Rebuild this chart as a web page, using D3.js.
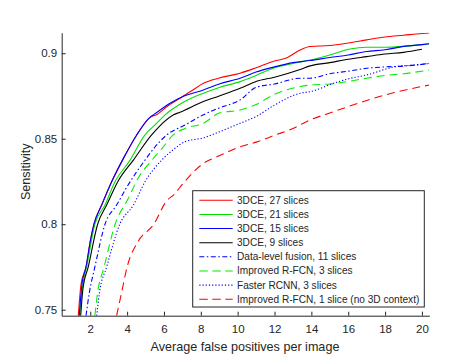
<!DOCTYPE html>
<html><head><meta charset="utf-8">
<script src="https://cdn.jsdelivr.net/npm/d3@7"></script>
<style>
html,body{margin:0;padding:0;background:#fff;}
svg{display:block;font-family:"Liberation Sans",Arial,sans-serif;}
</style></head>
<body>
<svg id="chart" width="474" height="355"></svg>
<script>
// ---- data ----
const xTicks = [2,4,6,8,10,12,14,16,18,20];
const yTicks = [0.75,0.8,0.85,0.9];
const yTickLabels = ["0.75","0.8","0.85","0.9"];
const seriesNames = [
  "3DCE, 27 slices",
  "3DCE, 21 slices",
  "3DCE, 15 slices",
  "3DCE, 9 slices",
  "Data-level fusion, 11 slices",
  "Improved R-FCN, 3 slices",
  "Faster RCNN, 3 slices",
  "Improved R-FCN, 1 slice (no 3D context)"
];
const dce27 = [[1.35,.7465],[1.5,.765],[1.77,.775],[2.0,.79],[2.2,.80],[2.62,.8112],[3.16,.8248],[3.8,.8385],[4.52,.8522],[5.24,.8625],[5.6,.864],[6.15,.8687],[6.87,.8737],[7.5,.878],[8.14,.8824],[9.0,.8855],[10.13,.8883],[11.0,.8915],[12.0,.8955],[12.6,.897],[13.39,.9019],[13.93,.9039],[15,.9045],[16,.906],[17,.9078],[18,.9095],[19,.9105],[20,.9115],[20.4,.9118]];
const dce21 = [[1.42,.7465],[1.6,.765],[1.8,.775],[2.25,.80],[2.8,.8112],[3.3,.824],[4.16,.8375],[4.97,.8522],[5.6,.859],[6.06,.8639],[7.0,.871],[8.14,.8766],[9.0,.880],[10.13,.8834],[11.0,.887],[12.0,.8915],[13.0,.894],[13.93,.896],[15.0,.899],[16.1,.9025],[17.0,.9035],[18.0,.9035],[19.0,.904],[20.0,.905],[20.4,.9055]];
const dce15 = [[1.4,.7465],[1.55,.765],[1.77,.775],[2.0,.79],[2.2,.80],[2.62,.8112],[3.16,.8248],[3.8,.8385],[4.52,.8522],[5.24,.8625],[5.5,.8645],[6.33,.8707],[7.0,.8745],[8.14,.8785],[9.0,.882],[10.13,.8854],[11.0,.889],[12.0,.892],[13.0,.8945],[13.93,.8957],[15.0,.8975],[16.0,.899],[17.0,.901],[18.0,.902],[19.0,.904],[20.0,.905],[20.4,.9055]];
const dce9 = [[1.48,.7465],[1.6,.762],[1.89,.775],[2.4,.80],[2.89,.8112],[3.5,.825],[4.34,.8375],[5.33,.8522],[6.5,.8639],[6.87,.8655],[8.14,.8717],[9.0,.875],[10.13,.8795],[11.0,.8835],[12.0,.886],[13.39,.8905],[13.93,.8926],[15.0,.8945],[16.0,.8965],[17.0,.898],[18.0,.8995],[19.0,.9005],[20.0,.9023]];
const dataFusion11 = [[1.77,.7465],[1.95,.76],[2.25,.775],[2.8,.80],[3.43,.8112],[4.0,.822],[4.97,.8375],[5.5,.845],[6.15,.8522],[7.14,.858],[8.14,.864],[9.0,.868],[10.13,.8727],[11.0,.880],[12.0,.882],[13.39,.8854],[13.93,.8854],[15.0,.888],[16.0,.8895],[17.0,.8912],[18.0,.892],[19.0,.8925],[20.0,.8935],[20.4,.8941]];
const rfcn3 = [[2.25,.7465],[2.4,.76],[2.75,.775],[3.35,.80],[4.06,.815],[4.6,.827],[5.35,.8375],[5.9,.8444],[6.5,.8522],[7.14,.856],[8.14,.859],[9.0,.865],[10.13,.8668],[11.0,.870],[12.0,.876],[13.39,.8805],[13.93,.8814],[15.0,.882],[16.0,.8835],[17.0,.8854],[18.0,.887],[19.0,.888],[20.4,.8902]];
const fasterRcnn3 = [[2.35,.7465],[2.5,.76],[2.89,.775],[3.6,.80],[4.34,.8112],[4.97,.8248],[5.88,.8375],[6.6,.8444],[7.14,.8483],[8.14,.8505],[9.0,.854],[10.13,.859],[11.0,.863],[12.0,.8697],[13.39,.8766],[13.93,.8775],[15.2,.8824],[16.0,.885],[17.0,.8873],[18.6,.8922],[19.5,.893],[20.4,.894]];
const rfcn1 = [[3.43,.7465],[3.7,.76],[4.0,.775],[4.6,.79],[5.45,.80],[6.1,.813],[6.6,.818],[7.05,.824],[8.14,.8356],[9.0,.840],[10.13,.8453],[11.0,.848],[12.0,.852],[13.0,.856],[13.93,.861],[15.0,.865],[16.0,.8688],[17.4,.8737],[18.5,.877],[20.4,.8814]];

const seriesValues = [dce27, dce21, dce15, dce9, dataFusion11, rfcn3, fasterRcnn3, rfcn1];
const seriesColors = ["#ff0000","#00e000","#0000ff","#000000","#0000ff","#00ee00","#0000ff","#ff0000"];
const seriesDash = [null,null,null,null,"5,2.5,1.5,2.5","8,5","1.2,2","8,5"];
const legendDash = [null,null,null,null,"5,2.5,1.5,2.5","8.5,4.5","1.2,2","8.5,4.5"];

// ---- layout ----
const svg = d3.select("#chart");
const L = 61.7, R = 429.3, T = 32.7, B = 315.7;
const axisColor = "#262626";
const x = d3.scaleLinear().domain([0.45, 20.4]).range([L, R]);
const y = d3.scaleLinear().domain([0.7465, 0.912]).range([B, T]);

svg.append("defs").append("clipPath").attr("id","plotclip")
  .append("rect").attr("x",L).attr("y",T).attr("width",R-L).attr("height",B-T);

const line = d3.line().x(d=>x(d[0])).y(d=>y(d[1])).curve(d3.curveMonotoneX);
const g = svg.append("g").attr("clip-path","url(#plotclip)");
seriesValues.forEach((s,i)=>{
  g.append("path").attr("d", line(s)).attr("fill","none")
    .attr("stroke", seriesColors[i]).attr("stroke-width", 1.1)
    .attr("stroke-dasharray", seriesDash[i]);
});

// axes
const xAxis = d3.axisBottom(x).tickValues(xTicks).tickSizeInner(-4).tickSizeOuter(0).tickPadding(9.5);
const yAxis = d3.axisLeft(y).tickValues(yTicks).tickFormat((d,i)=>yTickLabels[i]).tickSizeInner(-4).tickSizeOuter(0).tickPadding(4.5);
const gx = svg.append("g").attr("transform",`translate(0,${B})`).call(xAxis);
const gy = svg.append("g").attr("transform",`translate(${L},0)`).call(yAxis);
[gx,gy].forEach(a=>{
  a.select(".domain").attr("stroke",axisColor).attr("stroke-width",1);
  a.selectAll(".tick line").attr("stroke",axisColor);
  a.selectAll(".tick text").attr("fill",axisColor).style("font-size","11.5px")
    .style("font-family",'"Liberation Sans",Arial,sans-serif');
});

// axis labels
svg.append("text").attr("x",(L+R)/2 - 0.5).attr("y",350.5).attr("text-anchor","middle")
  .attr("fill",axisColor).style("font-size","12.6px").text("Average false positives per image");
svg.append("text").attr("transform",`translate(29.5,${171.7}) rotate(-90)`).attr("text-anchor","middle")
  .attr("fill",axisColor).style("font-size","12.6px").text("Sensitivity");

// legend
const lg = svg.append("g");
lg.append("rect").attr("x",192.7).attr("y",190.7).attr("width",424.3-192.7).attr("height",307-190.7)
  .attr("fill","#fff").attr("stroke",axisColor).attr("stroke-width",1);
seriesNames.forEach((n,i)=>{
  const yy = 200.3 + i*14.13;
  lg.append("line").attr("x1",199.3).attr("x2",232.7).attr("y1",yy).attr("y2",yy)
    .attr("stroke",seriesColors[i]).attr("stroke-width",1.1).attr("stroke-dasharray",legendDash[i]);
  lg.append("text").attr("x",237).attr("y",yy).attr("dy","0.35em").attr("fill",axisColor)
    .style("font-size","10.1px").text(n);
});
</script>
</body></html>
